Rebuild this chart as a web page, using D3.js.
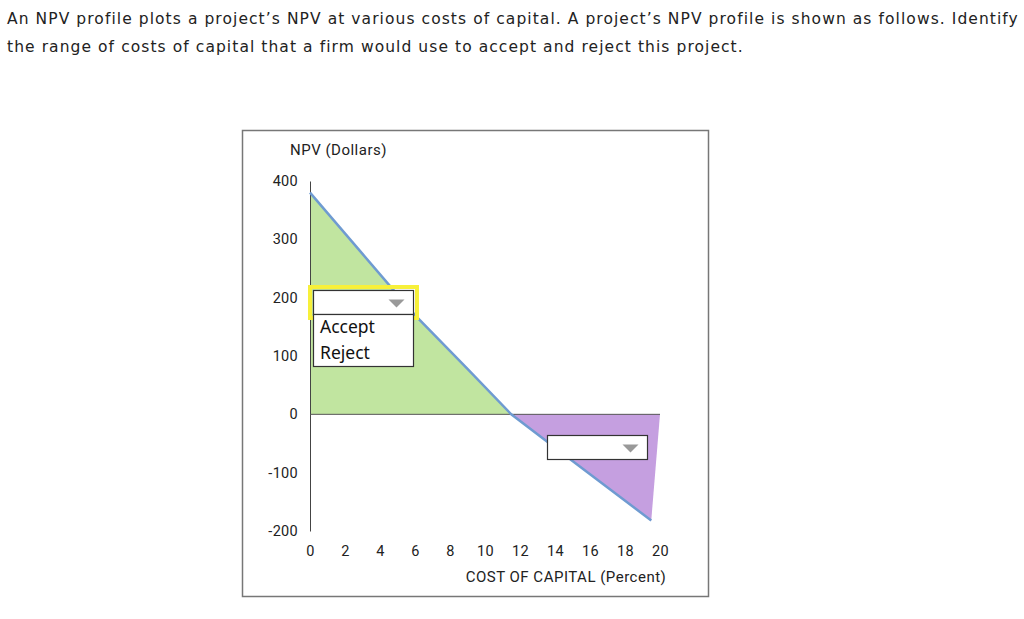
<!DOCTYPE html>
<html>
<head>
<meta charset="utf-8">
<style>
  body { margin: 0; background: #fff; }
  #question { position: absolute; left: 7px; top: 5px; width: 1020px; font-family: "DejaVu Sans", Verdana, sans-serif; font-size: 15.5px; letter-spacing: 1.07px; line-height: 28px; color: #222; white-space: nowrap; }
</style>
</head>
<body>
<div id="question">An NPV profile plots a project’s NPV at various costs of capital. A project’s NPV profile is shown as follows. Identify<br>the range of costs of capital that a firm would use to accept and reject this project.</div>
<svg id="chart" width="1024" height="619" style="position:absolute;left:0;top:0"></svg>
<script src="https://d3js.org/d3.v7.min.js"></script>
<script>
// cost of capital (percent) and NPV (dollars) along the profile
let rates = [0, 3, 6, 9, 11.5, 15, 19.5]
let npvs = [380, 275, 170, 78, 0, -80, -182]
let xTicks = [0, 2, 4, 6, 8, 10, 12, 14, 16, 18, 20]
let yTicks = [400, 300, 200, 100, 0, -100, -200]
let options = ["Accept", "Reject"]

let svg = d3.select("#chart")

// frame
svg.append("rect")
    .attr("x", 242.5).attr("y", 130.5)
    .attr("width", 466).attr("height", 466)
    .attr("fill", "none").attr("stroke", "#777").attr("stroke-width", 1.5)

let x = d3.scaleLinear().domain([0, 20]).range([310, 660])
let y = d3.scaleLinear().domain([-200, 400]).range([531, 181])

let labelFont = "Roboto, 'DejaVu Sans Condensed', sans-serif"

// accept area (positive NPV)
let accept = [[0, 0], [0, npvs[0]]]
rates.forEach((r, i) => { if (npvs[i] >= 0) accept.push([r, npvs[i]]) })
svg.append("path")
    .attr("d", d3.line().x(d => x(d[0])).y(d => y(d[1]))(accept) + "Z")
    .attr("fill", "#c1e5a0")

// reject area (negative NPV)
let reject = []
rates.forEach((r, i) => { if (npvs[i] <= 0) reject.push([r, npvs[i]]) })
reject.push([20, 0])
svg.append("path")
    .attr("d", d3.line().x(d => x(d[0])).y(d => y(d[1]))(reject) + "Z")
    .attr("fill", "#c59fe0")

// y axis
let yAxis = d3.axisLeft(y).tickValues(yTicks).tickSize(0).tickPadding(12)
    .tickFormat(d => d < 0 ? "-" + Math.abs(d) : d)
let gy = svg.append("g").attr("transform", "translate(310,0)").call(yAxis)
gy.select(".domain").attr("stroke", "#444")
gy.selectAll("text").attr("font-family", labelFont).attr("font-size", 14.5).attr("fill", "#222")
    .attr("letter-spacing", 0.3)

// x axis labels under the plot
let xAxis = d3.axisBottom(x).tickValues(xTicks).tickSize(0).tickPadding(14)
let gx = svg.append("g").attr("transform", "translate(0,532)").call(xAxis)
gx.select(".domain").remove()
gx.selectAll("text").attr("font-family", labelFont).attr("font-size", 14.5).attr("fill", "#222")
    .attr("letter-spacing", 0.3)

// zero line
svg.append("line")
    .attr("x1", x(0)).attr("x2", x(20))
    .attr("y1", y(0)).attr("y2", y(0))
    .attr("stroke", "#555").attr("stroke-width", 1)

// NPV profile
svg.append("path")
    .datum(rates.map((r, i) => [r, npvs[i]]))
    .attr("d", d3.line().x(d => x(d[0])).y(d => y(d[1])))
    .attr("fill", "none").attr("stroke", "#6f9bd1").attr("stroke-width", 2.5)

// axis titles
svg.append("text").attr("x", 290).attr("y", 155)
    .attr("font-family", labelFont).attr("font-size", 15).attr("letter-spacing", 0.5).attr("fill", "#222")
    .text("NPV (Dollars)")
svg.append("text").attr("x", 566).attr("y", 582).attr("text-anchor", "middle")
    .attr("font-family", labelFont).attr("font-size", 15).attr("letter-spacing", 0.5).attr("fill", "#222")
    .text("COST OF CAPITAL (Percent)")

// dropdowns
function dropdown(bx, by, w, h, highlighted) {
    let g = svg.append("g")
    if (highlighted) {
        g.append("rect").attr("x", bx - 3.5).attr("y", by - 3.5)
            .attr("width", w + 7).attr("height", h + 7)
            .attr("fill", "none").attr("stroke", "#f7f03a").attr("stroke-width", 4)
    }
    g.append("rect").attr("x", bx).attr("y", by).attr("width", w).attr("height", h)
        .attr("fill", "#fff").attr("stroke", "#333").attr("stroke-width", 1.2)
    let ax = bx + w - 17, ay = by + h / 2 - 3
    g.append("path").attr("d", `M${ax - 8},${ay} L${ax + 8},${ay} L${ax},${ay + 8} Z`).attr("fill", "#999")
    return g
}

dropdown(313.5, 290.5, 100, 24, true)
let list = svg.append("g")
list.append("rect").attr("x", 313.5).attr("y", 314.5).attr("width", 100).attr("height", 52)
    .attr("fill", "#fff").attr("stroke", "#333").attr("stroke-width", 1.2)
list.selectAll("text").data(options).join("text")
    .attr("x", 320).attr("y", (d, i) => 333 + i * 26)
    .attr("font-family", "'Noto Sans', 'Open Sans', sans-serif").attr("font-size", 17.5).attr("fill", "#111")
    .text(d => d)

dropdown(547.5, 435.5, 100, 24, false)
</script>
</body>
</html>
